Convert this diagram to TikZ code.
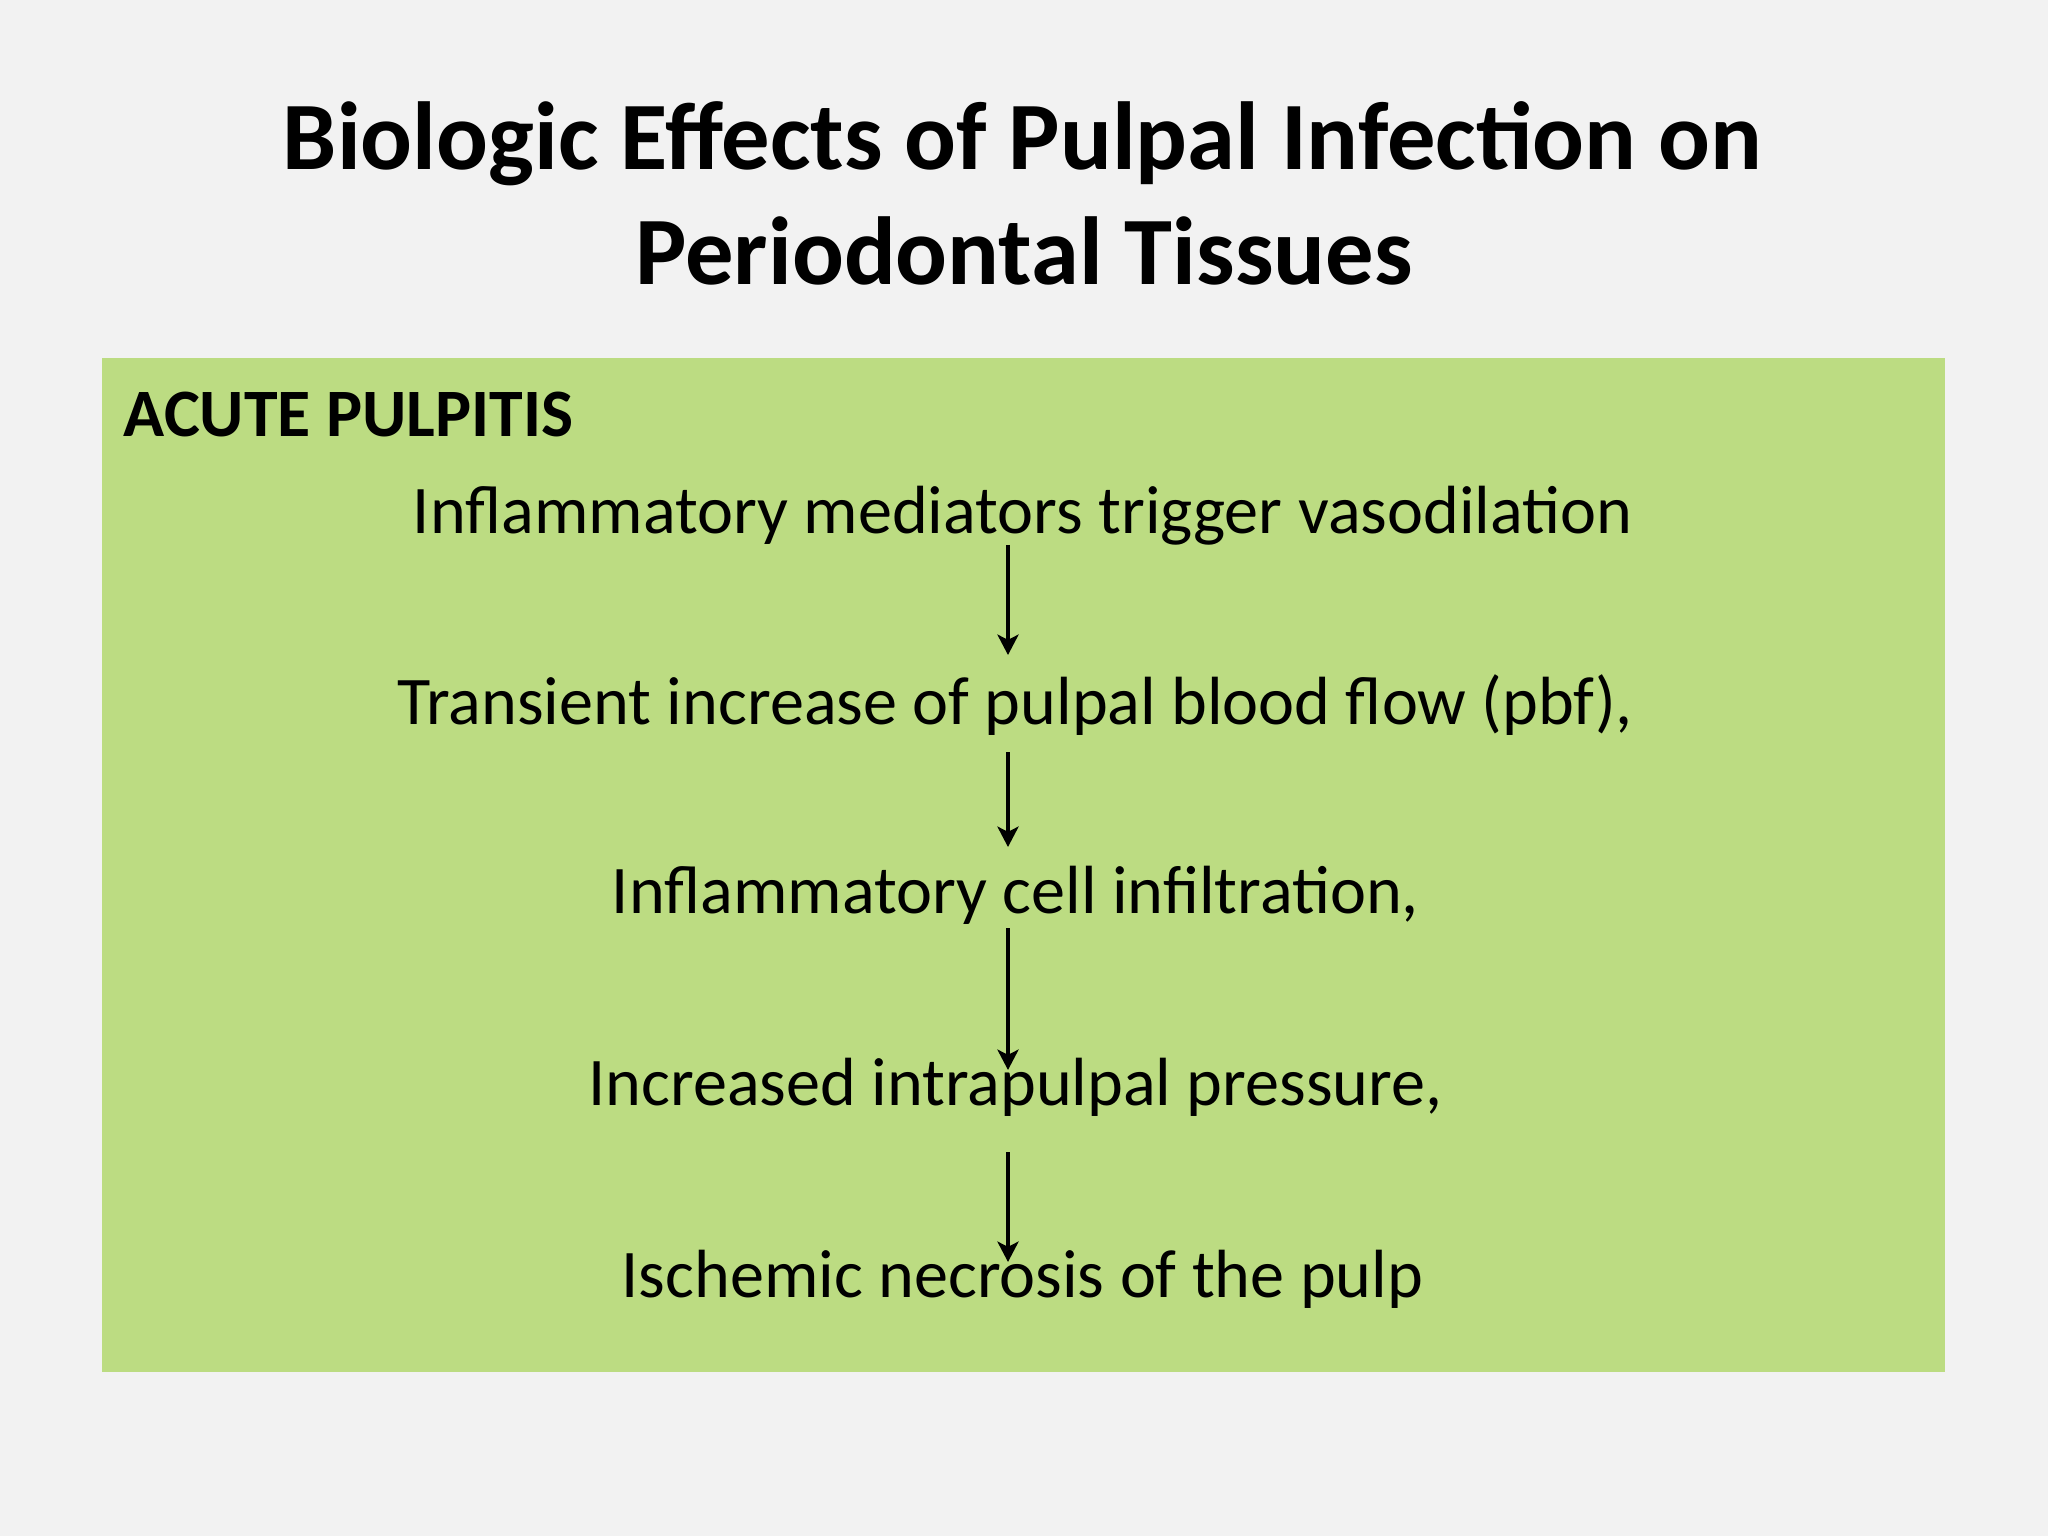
\documentclass[tikz,border=0pt]{standalone}
\usepackage{fontspec}
\setmainfont{Carlito}
\usetikzlibrary{calc, positioning, arrows.meta}

\definecolor{slidebg}{HTML}{F2F2F2}
\definecolor{pulpgreen}{HTML}{BCDC82}

\tikzset{
  title_text/.style={anchor=base, inner sep=0pt, font=\fontsize{27.5}{33}\selectfont\bfseries},
  step_text/.style={anchor=base, inner sep=0pt, font=\fontsize{19.4}{24}\selectfont},
  flow_arrow/.style={line width=1.3pt, -{Stealth[length=5.8pt, width=6pt, inset=1.5pt]}}
}

\begin{document}
\begin{tikzpicture}[x=1cm, y=1cm]
    \path[use as bounding box, fill=slidebg] (0,0) rectangle (20.48,-15.36);

    % title
    \node[title_text] (title_top) at (10.225,-1.70) {Biologic Effects of Pulpal Infection on};
    \node[title_text] (title_bot) at (10.24,-2.85) {Periodontal Tissues};

    % green panel
    \fill[pulpgreen] (1.02,-3.58) rectangle (19.45,-13.72);
    \node[anchor=base west, inner sep=0pt, font=\fontsize{19.3}{24}\selectfont\bfseries]
      (acute_label) at (1.23,-4.37) {ACUTE PULPITIS};

    \begin{scope}
      \coordinate (axis) at (10.08,0);
      \node[step_text] (mediators) at (10.225,-5.33) {Inflammatory mediators trigger vasodilation};
      \node[step_text] (bloodflow) at (10.155,-7.24) {Transient increase of pulpal blood flow (pbf),};
      \node[step_text] (infiltration) at (10.155,-9.13) {Inflammatory cell infiltration,};
      \node[step_text] (pressure) at (10.155,-11.05) {Increased intrapulpal pressure,};
      \node[step_text] (necrosis) at (10.225,-12.97) {Ischemic necrosis of the pulp};
    \end{scope}

    % arrows between the steps
    \draw[flow_arrow] ($(mediators.base -| axis)+(0,-0.12)$) -- ($(bloodflow.base -| axis)+(0,0.69)$);
    \draw[flow_arrow] ($(bloodflow.base -| axis)+(0,-0.28)$) -- ($(infiltration.base -| axis)+(0,0.66)$);
    \draw[flow_arrow] ($(infiltration.base -| axis)+(0,-0.15)$) -- ($(pressure.base -| axis)+(0,0.35)$);
    \draw[flow_arrow] ($(pressure.base -| axis)+(0,-0.47)$) -- ($(necrosis.base -| axis)+(0,0.35)$);

\end{tikzpicture}
\end{document}
